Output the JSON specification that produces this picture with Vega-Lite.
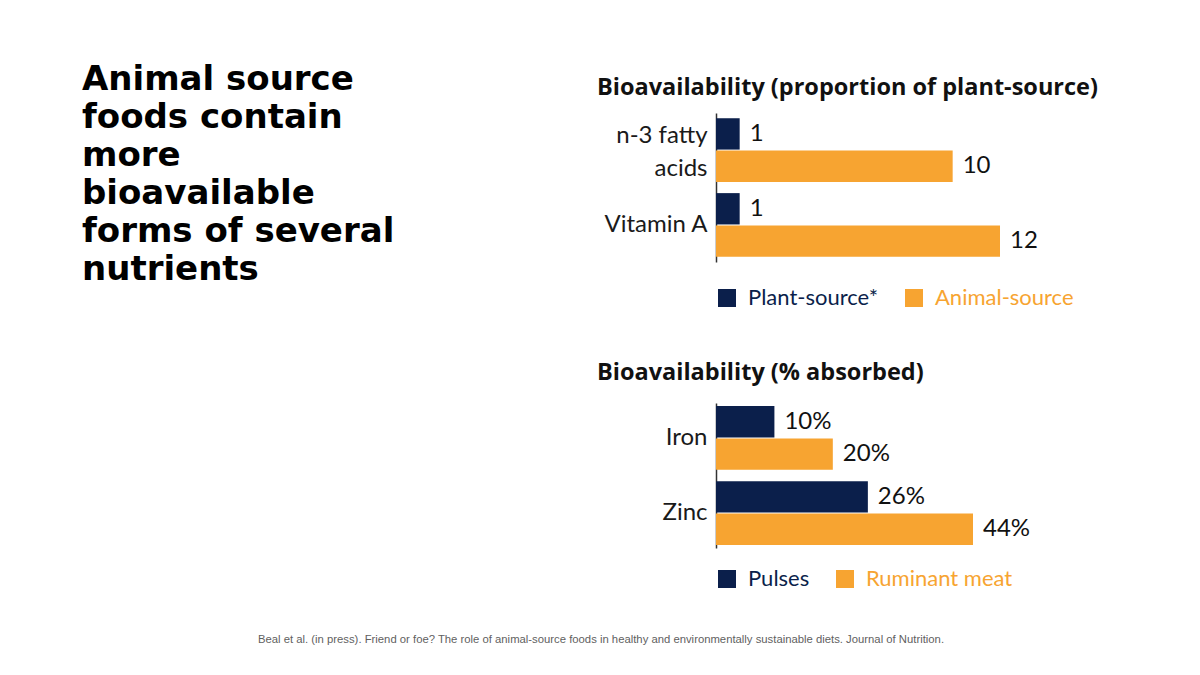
{
  "$schema": "https://vega.github.io/schema/vega-lite/v6.json",
  "background": "white",
  "padding": {"left": 82, "top": 63, "right": 20, "bottom": 20},
  "bounds": "flush",
  "spacing": 34,
  "resolve": {"scale": {"color": "independent", "yOffset": "independent", "x": "independent", "y": "independent"}, "legend": {"color": "independent"}},
  "datasets": {
    "ratio": [
      {"nutrient": "n-3 fatty acids", "source": "Plant-source*", "value": 1},
      {"nutrient": "n-3 fatty acids", "source": "Animal-source", "value": 10},
      {"nutrient": "Vitamin A", "source": "Plant-source*", "value": 1},
      {"nutrient": "Vitamin A", "source": "Animal-source", "value": 12}
    ],
    "absorbed": [
      {"nutrient": "Iron", "source": "Pulses", "value": 0.10},
      {"nutrient": "Iron", "source": "Ruminant meat", "value": 0.20},
      {"nutrient": "Zinc", "source": "Pulses", "value": 0.26},
      {"nutrient": "Zinc", "source": "Ruminant meat", "value": 0.44}
    ]
  },
  "title": {
    "text": "Beal et al. (in press). Friend or foe? The role of animal-source foods in healthy and environmentally sustainable diets. Journal of Nutrition.",
    "orient": "bottom",
    "anchor": "middle",
    "frame": "bounds",
    "font": "Liberation Sans",
    "fontSize": 11.3,
    "fontWeight": "normal",
    "color": "#5f5f5f",
    "offset": 44,
    "dx": 11
  },
  "config": {
    "view": {"stroke": null},
    "axis": {"labelFont": "Lato", "titleFont": "Lato"},
    "legend": {"labelFont": "Lato"},
    "title": {"font": "Open Sans"}
  },
  "hconcat": [
    {
      "width": 600,
      "height": 1,
      "title": {
        "text": ["Animal source", "foods contain", "more", "bioavailable", "forms of several", "nutrients"],
        "orient": "bottom",
        "anchor": "start",
        "frame": "group",
        "baseline": "top",
        "offset": -51,
        "font": "DejaVu Sans",
        "fontSize": 34,
        "fontWeight": "bold",
        "lineHeight": 38,
        "color": "#000000"
      },
      "data": {"values": []},
      "mark": {"type": "point", "opacity": 0},
      "encoding": {}
    },
    {
      "bounds": "flush",
      "spacing": 141,
      "resolve": {"scale": {"color": "independent", "yOffset": "independent", "x": "independent", "y": "independent"}, "legend": {"color": "independent"}},
      "vconcat": [
        {
          "width": 284,
          "height": 149,
          "title": {
            "text": "Bioavailability (proportion of plant-source)",
            "anchor": "start",
            "frame": "group",
            "dx": -119,
            "offset": 14,
            "fontSize": 23.5,
            "fontWeight": "bold",
            "color": "#111111"
          },
          "data": {"name": "ratio"},
          "encoding": {
            "y": {
              "field": "nutrient",
              "type": "nominal",
              "sort": null,
              "scale": {"paddingInner": 0.15, "paddingOuter": 0.07},
              "axis": {
                "title": null,
                "ticks": false,
                "labelFontSize": 24,
                "labelColor": "#1a1a1a",
                "labelPadding": 9,
                "labelLineHeight": 33,
                "labelOffset": {"condition": {"test": "datum.value == 'n-3 fatty acids'", "value": -14}, "value": 0},
                "labelExpr": "datum.value == 'n-3 fatty acids' ? ['n-3 fatty', 'acids'] : datum.value",
                "domainColor": "#333333",
                "domainWidth": 1.5
              }
            },
            "yOffset": {
              "field": "source",
              "type": "nominal",
              "sort": ["Plant-source*", "Animal-source"],
              "scale": {"paddingInner": 0.03}
            },
            "x": {
              "field": "value",
              "type": "quantitative",
              "scale": {"domain": [0, 12], "nice": false},
              "axis": null
            }
          },
          "layer": [
            {
              "mark": {"type": "bar"},
              "encoding": {
                "color": {
                  "field": "source",
                  "type": "nominal",
                  "scale": {"domain": ["Plant-source*", "Animal-source"], "range": ["#0b1f4b", "#f7a431"]},
                  "legend": {
                    "title": null,
                    "orient": "bottom",
                    "direction": "horizontal",
                    "symbolType": "square",
                    "symbolSize": 324,
                    "symbolStrokeWidth": 0,
                    "labelFontSize": 22,
                    "labelOffset": 10,
                    "columnPadding": 24,
                    "offset": 25,
                    "padding": 0,
                    "encode": {
                      "labels": {
                        "update": {
                          "fill": {"signal": "datum.label == 'Animal-source' ? '#f7a431' : '#0b1f4b'"}
                        }
                      }
                    }
                  }
                }
              }
            },
            {
              "mark": {"type": "text", "align": "left", "baseline": "middle", "dx": 10, "font": "Lato", "fontSize": 24, "color": "#111111"},
              "encoding": {"text": {"field": "value", "type": "quantitative"}}
            }
          ]
        },
        {
          "width": 257,
          "height": 145,
          "title": {
            "text": "Bioavailability (% absorbed)",
            "anchor": "start",
            "frame": "group",
            "dx": -119,
            "offset": 19,
            "fontSize": 23.5,
            "fontWeight": "bold",
            "color": "#111111"
          },
          "data": {"name": "absorbed"},
          "encoding": {
            "y": {
              "field": "nutrient",
              "type": "nominal",
              "sort": null,
              "scale": {"paddingInner": 0.15, "paddingOuter": 0.04},
              "axis": {
                "title": null,
                "ticks": false,
                "labelFontSize": 24,
                "labelColor": "#1a1a1a",
                "labelPadding": 9,
                "domainColor": "#333333",
                "domainWidth": 1.5
              }
            },
            "yOffset": {
              "field": "source",
              "type": "nominal",
              "sort": ["Pulses", "Ruminant meat"],
              "scale": {"paddingInner": 0.03}
            },
            "x": {
              "field": "value",
              "type": "quantitative",
              "scale": {"domain": [0, 0.44], "nice": false},
              "axis": null
            }
          },
          "layer": [
            {
              "mark": {"type": "bar"},
              "encoding": {
                "color": {
                  "field": "source",
                  "type": "nominal",
                  "scale": {"domain": ["Pulses", "Ruminant meat"], "range": ["#0b1f4b", "#f7a431"]},
                  "legend": {
                    "title": null,
                    "orient": "bottom",
                    "direction": "horizontal",
                    "symbolType": "square",
                    "symbolSize": 324,
                    "symbolStrokeWidth": 0,
                    "labelFontSize": 22,
                    "labelOffset": 10,
                    "columnPadding": 24,
                    "offset": 20,
                    "padding": 0,
                    "encode": {
                      "labels": {
                        "update": {
                          "fill": {"signal": "datum.label == 'Ruminant meat' ? '#f7a431' : '#0b1f4b'"}
                        }
                      }
                    }
                  }
                }
              }
            },
            {
              "mark": {"type": "text", "align": "left", "baseline": "middle", "dx": 10, "font": "Lato", "fontSize": 24, "color": "#111111"},
              "encoding": {"text": {"field": "value", "type": "quantitative", "format": ".0%"}}
            }
          ]
        }
      ]
    }
  ]
}
